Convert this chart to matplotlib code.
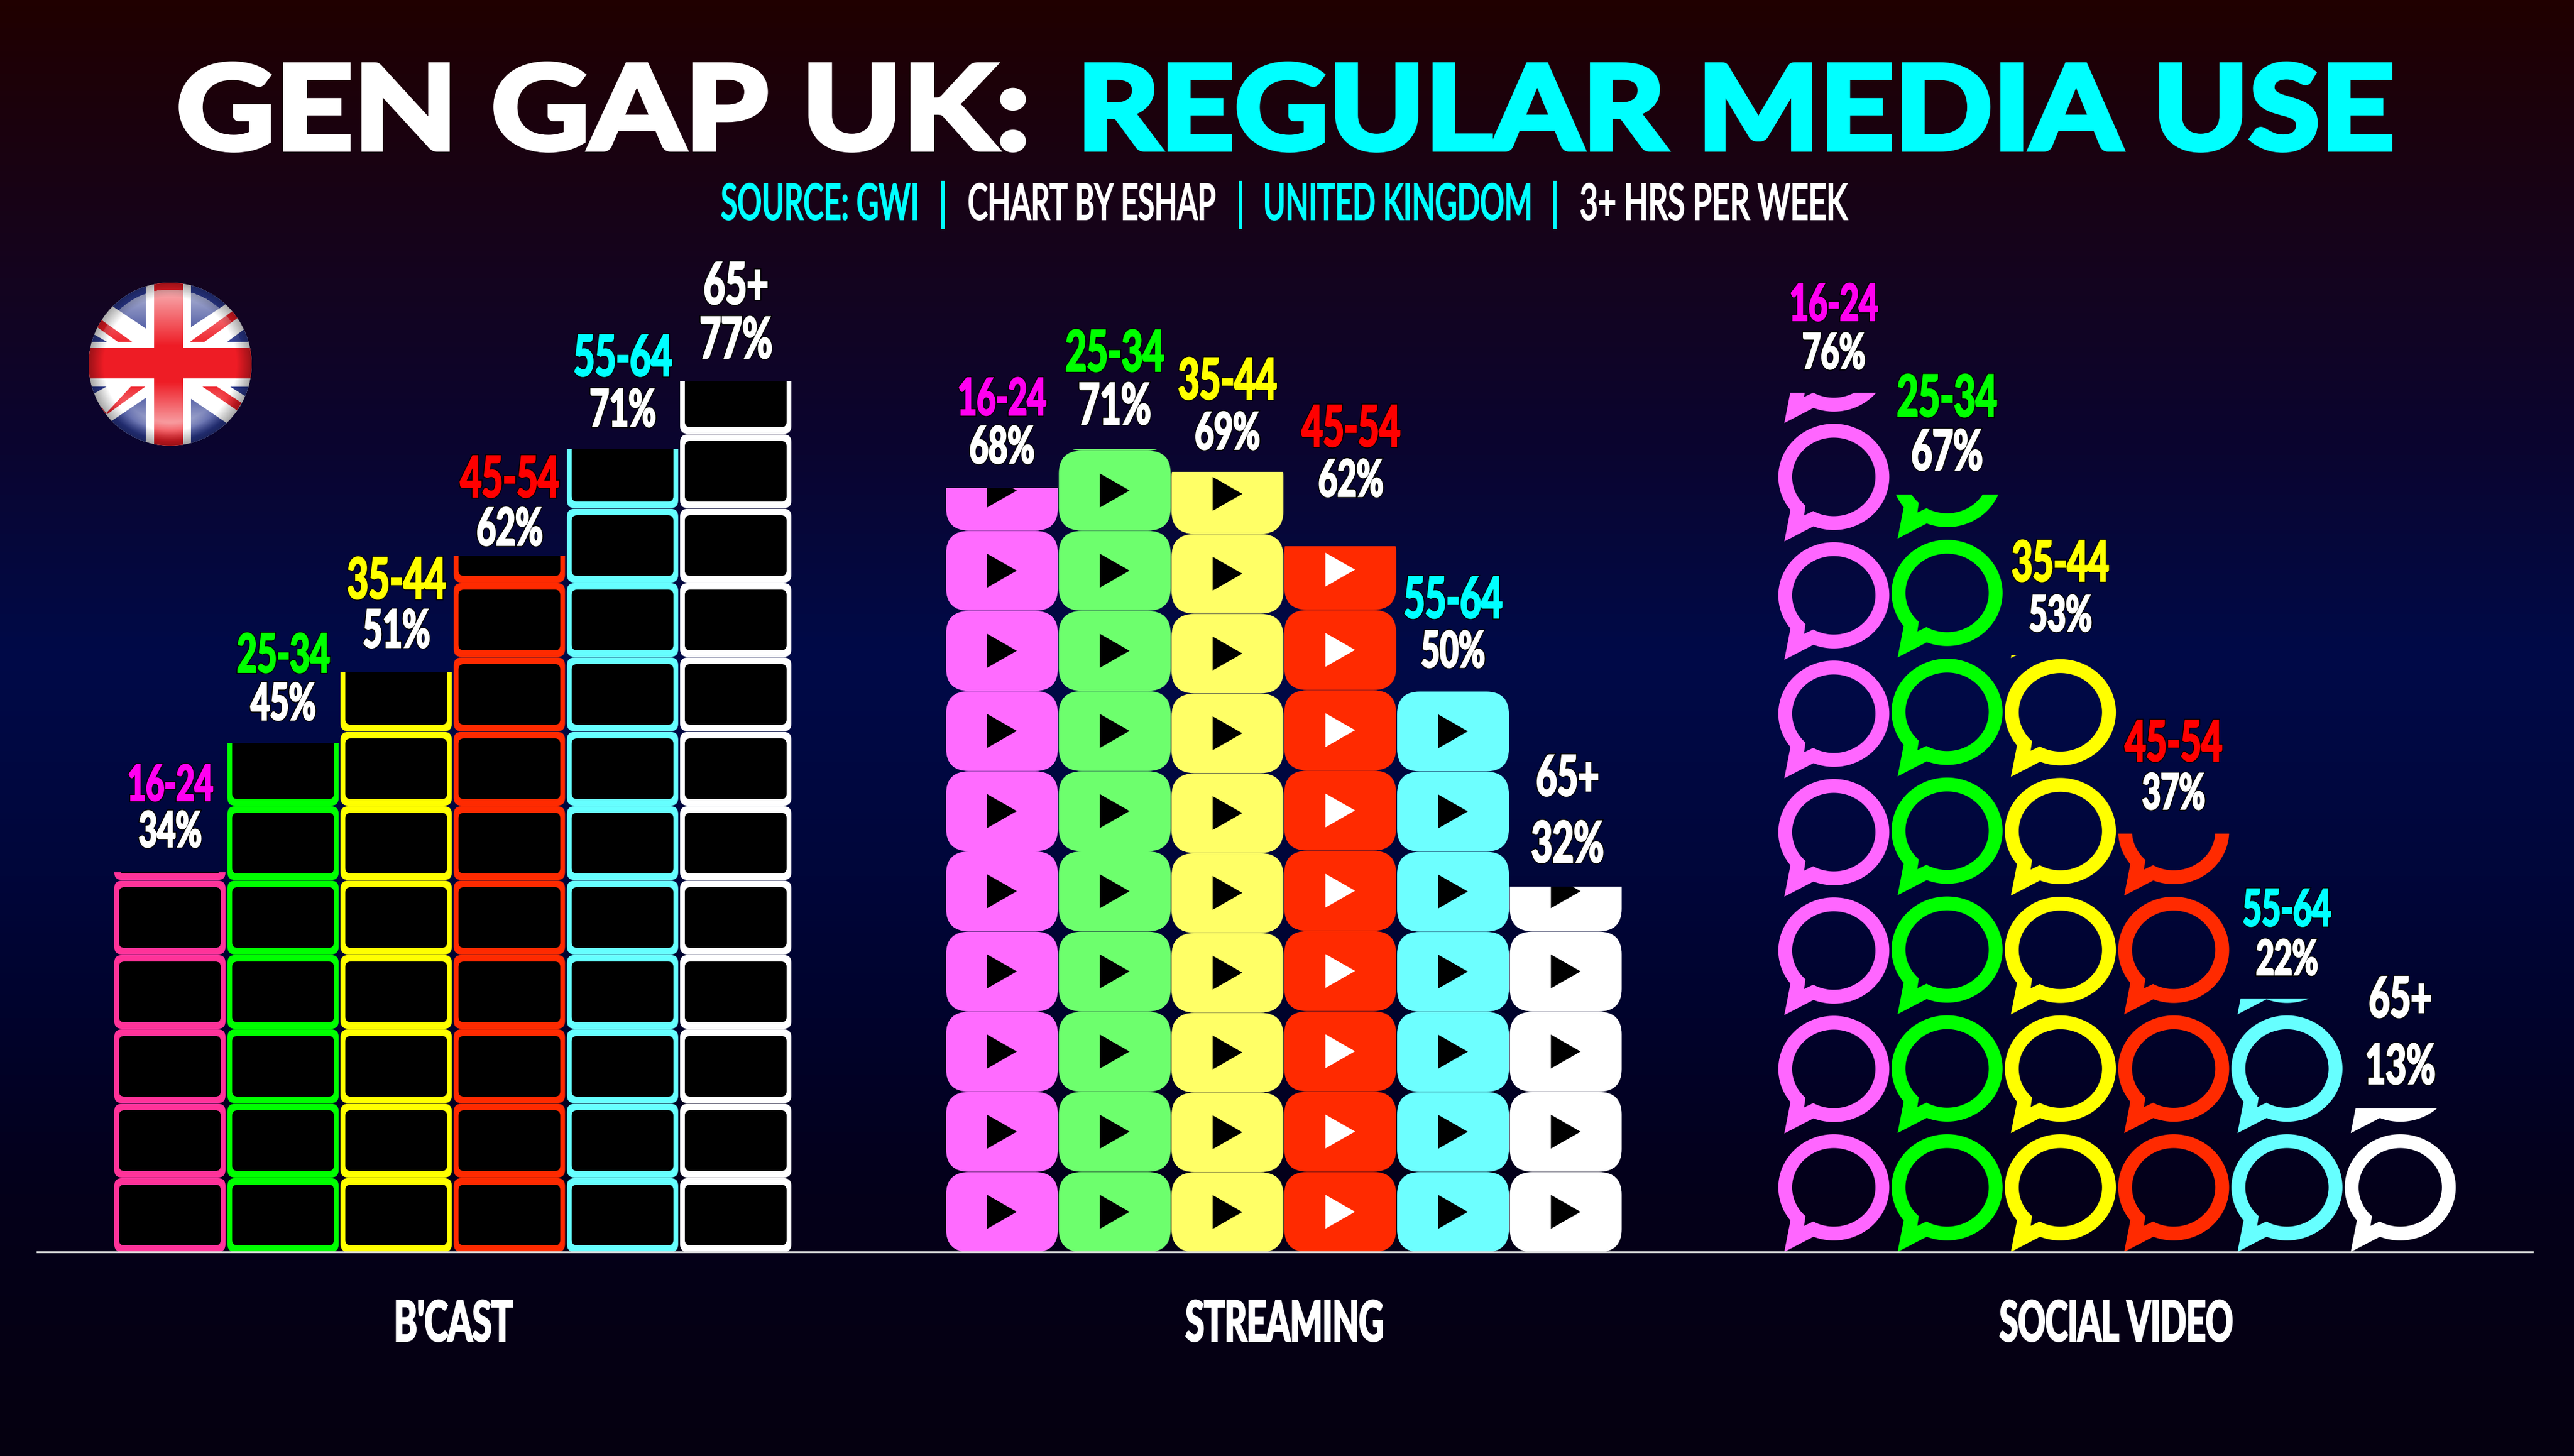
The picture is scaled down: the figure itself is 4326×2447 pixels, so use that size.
import numpy as np
import matplotlib
matplotlib.use('Agg')
import matplotlib.pyplot as plt
from matplotlib.colors import LinearSegmentedColormap
from matplotlib.font_manager import FontProperties
from matplotlib.patches import Ellipse, FancyBboxPatch, PathPatch, Polygon, Rectangle
from matplotlib.path import Path
from matplotlib.patheffects import AbstractPathEffect
from matplotlib.textpath import TextPath
from matplotlib.transforms import Affine2D

ages = ['16-24', '25-34', '35-44', '45-54', '55-64', '65+']
panel_names = ["B'CAST", 'STREAMING', 'SOCIAL VIDEO']

# printed percentages
bcast_pct = [34, 45, 51, 62, 71, 77]
stream_pct = [68, 71, 69, 62, 50, 32]
social_pct = [76, 67, 53, 37, 22, 13]

# height of each stack as drawn in the picture
bcast_top = [33.6, 45, 51.3, 61.6, 71, 77]
stream_top = [67.6, 71, 69, 62.4, 49.6, 32.3]
social_top = [76, 67, 52.8, 37, 22.4, 12.7]

# label layout, pixels: gap above stack, cap height
bcast_pct_gap = [41, 38, 40, 16, 37, 38]
bcast_age_gap = [119, 118, 122, 97, 122, 129]
bcast_pct_cap = [62, 64, 66, 65, 65, 71]
bcast_age_cap = [62, 67, 71, 71, 71, 72]
stream_pct_gap = [40, 41, 37, 83, 39, 40]
stream_age_gap = [121, 130, 121, 167, 122, 152]
stream_pct_cap = [64, 71, 64, 64, 63, 71]
stream_age_cap = [64, 71, 71, 71, 71, 70]
stream_dx = [0, 0, 0, 18, 0, 3]
social_pct_gap = [39, 40, 39, 40, 39, 40]
social_age_gap = [120, 130, 123, 121, 121, 152]
social_pct_cap = [62, 70, 62, 62, 61, 69]
social_age_cap = [64, 72, 70, 70, 64, 70]

label_cols = ['#ff00f0', '#00ff00', '#ffff00', '#ff0000', '#00ffff', '#ffffff']
bcast_cols = ['#ff3399', '#00ff00', '#ffff00', '#ff2a00', '#66ffff', '#ffffff']
stream_cols = ['#ff6bff', '#6dff6d', '#ffff66', '#ff2a00', '#6dffff', '#ffffff']
social_cols = ['#ff66ff', '#00ff00', '#ffff00', '#ff2a00', '#66ffff', '#ffffff']

W, H = 4326, 2447
BASE = 2104       # baseline in picture pixels
PX = 19.0         # pixels per percentage point


def yp(py):
    '''picture pixel row to value on the y axis'''
    return (BASE - py) / PX


class Stretch(AbstractPathEffect):
    '''stretch a text up from its baseline, fatten it, optional dark edge (sizes in px)'''
    def __init__(self, sy=1.0, fat=0, edge=0):
        self.sy = sy
        self.fat = fat
        self.edge = edge

    def stroke(self, renderer, gc, tpath, aff, rgbFace, px, col):
        gc0 = renderer.new_gc()
        gc0.copy_properties(gc)
        gc0.set_linewidth(px * 0.72)
        gc0.set_foreground(col)
        gc0.set_joinstyle('miter')
        renderer.draw_path(gc0, tpath, aff, rgbFace)
        gc0.restore()

    def draw_path(self, renderer, gc, tpath, affine, rgbFace=None):
        aff = Affine2D().scale(1, self.sy) + affine
        if self.edge:
            self.stroke(renderer, gc, tpath, aff, rgbFace, self.fat + self.edge, '#000000')
        if self.fat:
            self.stroke(renderer, gc, tpath, aff, rgbFace, self.fat, rgbFace)
        renderer.draw_path(gc, tpath, aff, rgbFace)


def put_text(ax, x, py, s, cap, color, weight='bold', sx=1.0, width=None, fat=0, edge=0):
    em = (cap - fat) / 0.7165
    if width:
        fp = FontProperties(family='Lato', weight=weight)
        sx = (width - fat) / TextPath((0, 0), s, size=em, prop=fp).get_extents().width
    ax.text(x, yp(py - fat / 2), s, color=color, fontsize=em * sx * 0.72, family='Lato', weight=weight,
            ha='center', va='baseline', zorder=10, path_effects=[Stretch(1 / sx, fat, edge)])


def stack_clip(ax, x0, x1, top):
    clip = Rectangle((x0, 0), x1 - x0, top, transform=ax.transData)
    return clip


def round_box(ax, x, py_bottom, w, h, r, color, clip):
    p = FancyBboxPatch((x, yp(py_bottom)), w, h / PX,
                       boxstyle='round,pad=0,rounding_size=%f' % r,
                       mutation_aspect=1 / PX, fc=color, ec='none', zorder=3)
    ax.add_patch(p)
    p.set_clip_path(clip)


def draw_bcast(ax):
    pitch = 125.0
    for i, top in enumerate(bcast_top):
        x = 192 + 190.2 * i
        clip = stack_clip(ax, x - 5, x + 195, top)
        n = int(np.ceil(top * PX / pitch))
        for k in range(n):
            bottom = BASE - k * pitch
            round_box(ax, x, bottom, 187, pitch - 1, 13, bcast_cols[i], clip)
            round_box(ax, x + 8, bottom - 11, 171, pitch - 23, 9, '#000000', clip)


def draw_stream(ax):
    pitches = [134.7, 134.7, 134.1, 134.9, 134.6, 134.7]
    for i, top in enumerate(stream_top):
        x = 1590 + 189.5 * i
        pitch = pitches[i]
        clip = stack_clip(ax, x - 5, x + 195, top)
        n = int(np.ceil(top * PX / pitch))
        play = '#ffffff' if i == 3 else '#000000'
        for k in range(n):
            bottom = BASE - k * pitch
            round_box(ax, x, bottom, 188, pitch - 0.5, 38, stream_cols[i], clip)
            mid = bottom - pitch / 2
            tri = Polygon([(x + 69, yp(mid - 28.5)), (x + 119, yp(mid)), (x + 69, yp(mid + 28.5))],
                          fc=play, ec='none', zorder=4)
            ax.add_patch(tri)
            tri.set_clip_path(clip)


def bubble_path():
    '''speech bubble ring around (0,0), in pixels, y up'''
    t = np.radians(np.linspace(-111.5, 218.6, 120))
    outer = np.column_stack([93.3 * np.cos(t), 89.3 * np.sin(t)])
    outer = np.vstack([outer, [[-83.2, -108.5]], outer[:1]])
    t = np.radians(np.linspace(-119.6, 227.2, 120))
    inner = np.column_stack([70 * np.cos(t), 66 * np.sin(t)])
    inner = np.vstack([inner, [[-50, -64.7]], inner[:1]])[::-1]
    verts = np.vstack([outer, inner])
    codes = [Path.MOVETO] + [Path.LINETO] * (len(outer) - 2) + [Path.CLOSEPOLY]
    codes += [Path.MOVETO] + [Path.LINETO] * (len(inner) - 2) + [Path.CLOSEPOLY]
    return Path(verts, codes)


def draw_social(ax):
    pitches = [199.0, 199.8, 199.6, 199.6, 199.6, 199.6]
    ring = bubble_path()
    for i, top in enumerate(social_top):
        cx = 3082 + 190.4 * i
        pitch = pitches[i]
        clip = stack_clip(ax, cx - 110, cx + 110, top)
        n = int(np.ceil(top * PX / pitch))
        for k in range(n):
            cy = yp(BASE - k * pitch - 108.5)
            tr = Affine2D().scale(1, 1 / PX).translate(cx, cy) + ax.transData
            p = PathPatch(ring, fc=social_cols[i], ec='none', transform=tr, zorder=3)
            ax.add_patch(p)
            p.set_clip_path(clip)


def draw_flag(ax):
    cx, cy, r = 286, 612, 137
    circle = Ellipse((cx, yp(cy)), 2 * r, 2 * r / PX, transform=ax.transData)

    def zoomed(pts):
        return [(cx + (a - 468) / 3, yp(cy + (b - 455) / 3)) for a, b in pts]

    def shape(pts, col):
        p = Polygon(zoomed(pts), fc=col, ec='none', zorder=5)
        ax.add_patch(p)
        p.set_clip_path(circle)

    shape([(0, 0), (950, 0), (950, 950), (0, 950)], '#ffffff')
    blue = '#2b3990'
    shape([(180, 165), (345, 275), (345, 20), (100, 20)], blue)
    shape([(75, 300), (150, 343), (20, 343), (20, 268)], blue)
    shape([(573, 268), (745, 155), (830, 20), (573, 20)], blue)
    shape([(755, 343), (840, 280), (910, 240), (910, 343)], blue)
    shape([(20, 568), (147, 568), (20, 640)], blue)
    shape([(345, 625), (175, 740), (100, 890), (345, 890)], blue)
    shape([(770, 568), (910, 568), (910, 655)], blue)
    shape([(573, 630), (750, 750), (830, 890), (573, 890)], blue)
    red = '#ee1c25'
    shape([(95, 213), (277, 343), (205, 343), (70, 247)], red)
    shape([(800, 175), (825, 210), (640, 343), (567, 343)], red)
    shape([(270, 568), (343, 568), (150, 708), (122, 672), (100, 690), (120, 730)], red)
    shape([(630, 568), (703, 568), (828, 650), (805, 688)], red)
    shape([(386, 0), (533, 0), (533, 950), (386, 950)], red)
    shape([(0, 373), (950, 373), (950, 528), (0, 528)], red)

    # gloss on top of the flag
    v, u = np.mgrid[-r:r + 1, -r:r + 1].astype(float)
    rr = np.hypot(u, v)
    top_a = np.clip((-v - 30) / 90, 0, 1) * 0.62 * (rr < 125)
    bot_a = np.clip((v - 30) / 70, 0, 1) * 0.58 * np.clip((130 - rr) / 32, 0, 1)
    rgba = np.ones(u.shape + (4,))
    rgba[..., 3] = top_a + bot_a
    im = ax.imshow(rgba, extent=(cx - r, cx + r, yp(cy + r), yp(cy - r)), aspect='auto',
                   origin='upper', zorder=6, interpolation='bilinear')
    im.set_clip_path(circle)
    shade = np.zeros(u.shape + (4,))
    shade[..., 3] = np.clip((rr - 112) / 25, 0, 1) * 0.35
    im2 = ax.imshow(shade, extent=(cx - r, cx + r, yp(cy + r), yp(cy - r)), aspect='auto',
                    origin='upper', zorder=6, interpolation='bilinear')
    im2.set_clip_path(circle)


fig = plt.figure(figsize=(W / 100, H / 100), dpi=100)
ax = fig.add_axes([0, 0, 1, 1])
ax.axis('off')

# background gradient
stops = [(0, '#200000'), (0.19, '#14041f'), (0.31, '#0a0530'), (0.45, '#000a48'),
         (0.6, '#00063a'), (0.7, '#01032c'), (0.82, '#04001a'), (1, '#060010')]
bg = LinearSegmentedColormap.from_list('bg', stops)
ax.imshow(np.linspace(0, 1, 512)[:, None], cmap=bg, aspect='auto', origin='upper',
          extent=(0, W, yp(H), yp(0)), zorder=0)

draw_bcast(ax)
draw_stream(ax)
draw_social(ax)
draw_flag(ax)

ax.plot([61, 4258], [0, 0], color='#d9d9d9', lw=2.3, zorder=8, solid_capstyle='butt')

# value and age labels
panels = [
    (bcast_pct, bcast_top, bcast_pct_gap, bcast_age_gap, bcast_pct_cap, bcast_age_cap,
     [286 + 190.2 * i for i in range(6)]),
    (stream_pct, stream_top, stream_pct_gap, stream_age_gap, stream_pct_cap, stream_age_cap,
     [1684 + 189.5 * i + stream_dx[i] for i in range(6)]),
    (social_pct, social_top, social_pct_gap, social_age_gap, social_pct_cap, social_age_cap,
     [3082 + 190.4 * i for i in range(6)]),
]
for pct, top, pg, ag, pc, ac, xs in panels:
    for i in range(6):
        py = BASE - top[i] * PX
        put_text(ax, xs[i], py - pg[i], '%d%%' % pct[i], pc[i], '#ffffff', sx=0.65, fat=3, edge=3)
        put_text(ax, xs[i], py - ag[i], ages[i], ac[i], label_cols[i], sx=0.65, fat=3, edge=3)

# panel names
for name, x, w in zip(panel_names, [762, 2159, 3557], [197, 332, 392]):
    put_text(ax, x, 2255, name, 70, '#ffffff', width=w, fat=3)

# title
put_text(ax, 1014, 255, 'GEN GAP UK:', 149, '#ffffff', fat=9, width=1424)
put_text(ax, 2917, 255, 'REGULAR MEDIA USE', 149, '#00ffff', fat=9, width=2198)

# subtitle line
sub_txt = ['SOURCE: GWI', 'CHART BY ESHAP', 'UNITED KINGDOM', '3+ HRS PER WEEK']
sub_col = ['#00ffff', '#ffffff', '#00ffff', '#ffffff']
sub_x = [1378, 1835, 2349, 2880]
sub_w = [329, 415, 446, 450]
for s, c, x, w in zip(sub_txt, sub_col, sub_x, sub_w):
    put_text(ax, x, 370, s, 62, c, weight='medium', width=w, fat=2)
for x in [1585, 2085, 2613]:
    put_text(ax, x, 370, '|', 62, '#00ffff', weight='medium')

ax.set_xlim(0, W)
ax.set_ylim(yp(H), yp(0))
fig.savefig('out.png', dpi=100, facecolor='black')
